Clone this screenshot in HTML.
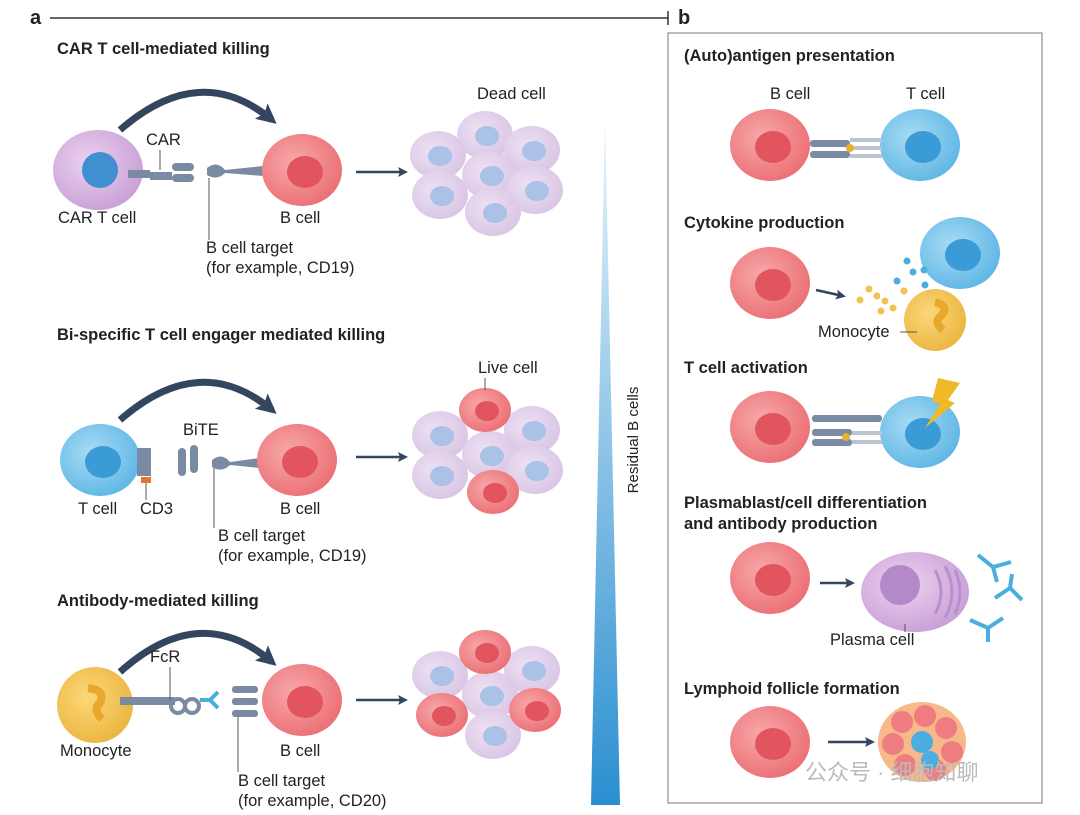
<!DOCTYPE html>
<html><head><meta charset="utf-8"><style>
html,body{margin:0;padding:0;background:#fff}
svg{display:block}
text{font-family:"Liberation Sans",Arial,sans-serif;fill:#222}
.t{font-weight:bold;font-size:16.5px}
.l{font-size:16.5px}
</style></head><body>
<svg width="1080" height="815" viewBox="0 0 1080 815">
<defs>
<radialGradient id="gR" cx="0.4" cy="0.4" r="0.7"><stop offset="0" stop-color="#f7a9aa"/><stop offset="1" stop-color="#ea6a70"/></radialGradient>
<radialGradient id="gB" cx="0.4" cy="0.4" r="0.7"><stop offset="0" stop-color="#a9dcf4"/><stop offset="1" stop-color="#58b3e4"/></radialGradient>
<radialGradient id="gP" cx="0.4" cy="0.4" r="0.7"><stop offset="0" stop-color="#ecd2ef"/><stop offset="1" stop-color="#c59bd5"/></radialGradient>
<radialGradient id="gD" cx="0.4" cy="0.4" r="0.7"><stop offset="0" stop-color="#eee0f2"/><stop offset="1" stop-color="#d6c3e4"/></radialGradient>
<radialGradient id="gY" cx="0.4" cy="0.4" r="0.7"><stop offset="0" stop-color="#fbd77a"/><stop offset="1" stop-color="#eab33a"/></radialGradient>
<linearGradient id="tri" x1="0" y1="0" x2="0" y2="1"><stop offset="0" stop-color="#e8f5fc"/><stop offset="1" stop-color="#2b8fd0"/></linearGradient>
<g id="bc"><ellipse cx="0" cy="0" rx="40" ry="36" fill="url(#gR)"/><ellipse cx="3" cy="2" rx="18" ry="16" fill="#e2555f"/></g>
<g id="tc"><ellipse cx="0" cy="0" rx="40" ry="36" fill="url(#gB)"/><ellipse cx="3" cy="2" rx="18" ry="16" fill="#3a9bd6"/></g>
<g id="dc"><ellipse cx="0" cy="0" rx="28" ry="24" fill="url(#gD)"/><ellipse cx="2" cy="1" rx="12" ry="10" fill="#a9c2e6"/></g>
<g id="lc"><ellipse cx="0" cy="0" rx="26" ry="22" fill="url(#gR)"/><ellipse cx="2" cy="1" rx="12" ry="10" fill="#e2555f"/></g>
<marker id="ah" markerUnits="userSpaceOnUse" markerWidth="10" markerHeight="10" refX="7" refY="5" orient="auto"><path d="M0,0 L10,5 L0,10 L2,5 z" fill="#34465f"/></marker>
<marker id="big" markerUnits="userSpaceOnUse" markerWidth="22" markerHeight="22" refX="14" refY="11" orient="auto"><path d="M0,1 L20,11 L0,21 L4,11 z" fill="#34465f"/></marker>
</defs>

<text x="30" y="24" style="font-weight:bold;font-size:20px">a</text>
<line x1="50" y1="18" x2="668" y2="18" stroke="#333" stroke-width="1.5"/>
<line x1="668" y1="11" x2="668" y2="25" stroke="#333" stroke-width="1.5"/>
<text x="678" y="24" style="font-weight:bold;font-size:20px">b</text>
<rect x="668" y="33" width="374" height="770" fill="none" stroke="#777" stroke-width="1"/>

<polygon points="605,118 620,805 591,805" fill="url(#tri)"/>
<text transform="translate(638,440) rotate(-90)" text-anchor="middle" class="l" style="font-size:15px">Residual B cells</text>

<!-- Row 1 -->
<text x="57" y="54" class="t">CAR T cell-mediated killing</text>
<path d="M120,130 Q200,60 272,120" fill="none" stroke="#34465f" stroke-width="7" marker-end="url(#big)"/>
<ellipse cx="98" cy="170" rx="45" ry="40" fill="url(#gP)"/><circle cx="100" cy="170" r="18" fill="#3f8fd1"/>
<rect x="128" y="170" width="22" height="8" fill="#7b8aa3"/><rect x="150" y="172" width="22" height="8" fill="#7b8aa3"/>
<rect x="172" y="163" width="22" height="8" rx="4" fill="#7b8aa3"/><rect x="172" y="174" width="22" height="8" rx="4" fill="#7b8aa3"/>
<path d="M207,168 q10,-8 18,2 l38,-4 l0,10 l-38,-3 q-8,8 -18,2" fill="#7b8aa3"/>
<use href="#bc" x="302" y="170"/>
<line x1="356" y1="172" x2="405" y2="172" stroke="#34465f" stroke-width="2.5" marker-end="url(#ah)"/>
<use href="#dc" x="485" y="135"/><use href="#dc" x="438" y="155"/><use href="#dc" x="532" y="150"/><use href="#dc" x="490" y="175"/><use href="#dc" x="440" y="195"/><use href="#dc" x="535" y="190"/><use href="#dc" x="493" y="212"/>
<text x="477" y="99" class="l">Dead cell</text>
<text x="146" y="145" class="l">CAR</text><line x1="160" y1="150" x2="160" y2="170" stroke="#555"/>
<text x="58" y="223" class="l">CAR T cell</text>
<text x="280" y="223" class="l">B cell</text>
<line x1="209" y1="178" x2="209" y2="240" stroke="#555"/>
<text x="206" y="253" class="l">B cell target</text><text x="206" y="273" class="l">(for example, CD19)</text>

<!-- Row 2 -->
<text x="57" y="340" class="t">Bi-specific T cell engager mediated killing</text>
<path d="M120,420 Q200,350 272,410" fill="none" stroke="#34465f" stroke-width="7" marker-end="url(#big)"/>
<use href="#tc" x="100" y="460"/>
<rect x="137" y="448" width="14" height="28" fill="#7b8aa3"/><rect x="141" y="477" width="10" height="6" fill="#e07a2f"/>
<rect x="178" y="448" width="8" height="28" rx="4" fill="#7b8aa3"/><rect x="190" y="445" width="8" height="28" rx="4" fill="#7b8aa3"/>
<path d="M212,460 q10,-8 18,2 l30,-4 l0,10 l-30,-3 q-8,8 -18,2" fill="#7b8aa3"/>
<use href="#bc" x="297" y="460"/>
<line x1="356" y1="457" x2="405" y2="457" stroke="#34465f" stroke-width="2.5" marker-end="url(#ah)"/>
<use href="#dc" x="440" y="435"/><use href="#dc" x="532" y="430"/><use href="#dc" x="490" y="455"/><use href="#dc" x="440" y="475"/><use href="#dc" x="535" y="470"/>
<use href="#lc" x="485" y="410"/><use href="#lc" x="493" y="492"/>
<text x="478" y="373" class="l">Live cell</text><line x1="485" y1="378" x2="485" y2="390" stroke="#555"/>
<text x="183" y="435" class="l">BiTE</text>
<text x="78" y="514" class="l">T cell</text><text x="140" y="514" class="l">CD3</text><line x1="146" y1="483" x2="146" y2="500" stroke="#555"/>
<text x="280" y="514" class="l">B cell</text>
<line x1="214" y1="468" x2="214" y2="528" stroke="#555"/>
<text x="218" y="541" class="l">B cell target</text><text x="218" y="561" class="l">(for example, CD19)</text>

<!-- Row 3 -->
<text x="57" y="606" class="t">Antibody-mediated killing</text>
<path d="M120,672 Q200,600 272,662" fill="none" stroke="#34465f" stroke-width="7" marker-end="url(#big)"/>
<circle cx="95" cy="705" r="38" fill="url(#gY)"/><path d="M88,688 q18,2 12,15 q-8,6 2,16" stroke="#e8a82e" stroke-width="8" fill="none"/>
<rect x="120" y="697" width="55" height="8" fill="#7b8aa3"/>
<circle cx="178" cy="706" r="7" fill="none" stroke="#7b8aa3" stroke-width="4"/><circle cx="192" cy="706" r="7" fill="none" stroke="#7b8aa3" stroke-width="4"/>
<path d="M200,700 l10,0 l8,-8 M210,700 l8,8" stroke="#4aafe0" stroke-width="4" fill="none"/>
<rect x="232" y="686" width="26" height="7" rx="3" fill="#7b8aa3"/><rect x="232" y="698" width="26" height="7" rx="3" fill="#7b8aa3"/><rect x="232" y="710" width="26" height="7" rx="3" fill="#7b8aa3"/>
<use href="#bc" x="302" y="700"/>
<line x1="356" y1="700" x2="405" y2="700" stroke="#34465f" stroke-width="2.5" marker-end="url(#ah)"/>
<use href="#dc" x="440" y="675"/><use href="#dc" x="532" y="670"/><use href="#dc" x="490" y="695"/><use href="#dc" x="493" y="735"/>
<use href="#lc" x="485" y="652"/><use href="#lc" x="442" y="715"/><use href="#lc" x="535" y="710"/>
<text x="150" y="662" class="l">FcR</text><line x1="170" y1="667" x2="170" y2="700" stroke="#555"/>
<text x="60" y="756" class="l">Monocyte</text>
<text x="280" y="756" class="l">B cell</text>
<line x1="238" y1="717" x2="238" y2="772" stroke="#555"/>
<text x="238" y="786" class="l">B cell target</text><text x="238" y="806" class="l">(for example, CD20)</text>

<!-- Panel b -->
<text x="684" y="61" class="t">(Auto)antigen presentation</text>
<text x="770" y="99" class="l">B cell</text><text x="906" y="99" class="l">T cell</text>
<use href="#bc" x="770" y="145"/><use href="#tc" x="920" y="145"/>
<rect x="810" y="140" width="40" height="7" rx="3" fill="#7b8aa3"/><rect x="810" y="151" width="40" height="7" rx="3" fill="#7b8aa3"/>
<path d="M850,148 l32,0 M850,140 l32,0 M850,156 l32,0" stroke="#bcc4d0" stroke-width="4"/><circle cx="850" cy="148" r="4" fill="#e8b12e"/>

<text x="684" y="228" class="t">Cytokine production</text>
<use href="#bc" x="770" y="283"/>
<use href="#tc" x="960" y="253"/>
<circle cx="935" cy="320" r="31" fill="url(#gY)"/><path d="M935,302 q15,4 6,14 q-8,6 2,14" stroke="#e8a82e" stroke-width="8" fill="none"/>
<line x1="816" y1="290" x2="843" y2="296" stroke="#34465f" stroke-width="2.5" marker-end="url(#ah)"/>
<g fill="#f2c24e"><circle cx="860" cy="300" r="3.5"/><circle cx="869" cy="289" r="3.5"/><circle cx="877" cy="296" r="3.5"/><circle cx="885" cy="301" r="3.5"/><circle cx="881" cy="311" r="3.5"/><circle cx="893" cy="308" r="3.5"/><circle cx="904" cy="291" r="3.5"/></g>
<g fill="#4aafe0"><circle cx="907" cy="261" r="3.5"/><circle cx="897" cy="281" r="3.5"/><circle cx="913" cy="272" r="3.5"/><circle cx="924" cy="270" r="3.5"/><circle cx="925" cy="285" r="3.5"/></g>
<text x="818" y="337" class="l">Monocyte</text><line x1="900" y1="332" x2="917" y2="332" stroke="#555"/>

<text x="684" y="373" class="t">T cell activation</text>
<use href="#bc" x="770" y="427"/><use href="#tc" x="920" y="432"/>
<rect x="812" y="415" width="70" height="7" rx="3" fill="#7b8aa3"/><rect x="812" y="429" width="40" height="7" rx="3" fill="#7b8aa3"/><rect x="812" y="439" width="40" height="7" rx="3" fill="#7b8aa3"/>
<path d="M852,433 l30,0 M852,442 l30,0" stroke="#bcc4d0" stroke-width="4"/><circle cx="846" cy="437" r="4" fill="#e8b12e"/>
<polygon points="938,378 960,383 948,400 955,403 925,428 940,404 932,401" fill="#f0b92a"/>

<text x="684" y="508" class="t">Plasmablast/cell differentiation</text>
<text x="684" y="529" class="t">and antibody production</text>
<use href="#bc" x="770" y="578"/>
<line x1="820" y1="583" x2="852" y2="583" stroke="#34465f" stroke-width="2.5" marker-end="url(#ah)"/>
<ellipse cx="915" cy="592" rx="54" ry="40" fill="url(#gP)"/><circle cx="900" cy="585" r="20" fill="#b489c9"/>
<path d="M935,570 q12,22 0,44 M945,566 q14,26 0,52 M955,570 q10,22 0,44" stroke="#b990cc" stroke-width="3" fill="none"/>
<text x="830" y="645" class="l">Plasma cell</text><line x1="905" y1="624" x2="905" y2="632" stroke="#555"/>
<g stroke="#4aafe0" stroke-width="4" fill="none"><path d="M978,555 l15,12 l18,-5 M993,567 l4,15"/><path d="M995,598 l15,-10 l12,12 M1010,588 l2,-14"/><path d="M970,620 l18,8 l15,-10 M988,628 l0,14"/></g>

<text x="684" y="694" class="t">Lymphoid follicle formation</text>
<use href="#bc" x="770" y="742"/>
<line x1="828" y1="742" x2="872" y2="742" stroke="#34465f" stroke-width="2.5" marker-end="url(#ah)"/>
<ellipse cx="922" cy="742" rx="44" ry="40" fill="#f7b88a"/>
<g><circle cx="902" cy="722" r="11" fill="#ef7c80"/><circle cx="925" cy="716" r="11" fill="#ef7c80"/><circle cx="946" cy="728" r="11" fill="#ef7c80"/><circle cx="952" cy="752" r="11" fill="#ef7c80"/><circle cx="935" cy="770" r="11" fill="#ef7c80"/><circle cx="905" cy="765" r="11" fill="#ef7c80"/><circle cx="893" cy="744" r="11" fill="#ef7c80"/><circle cx="922" cy="742" r="11" fill="#4aafe0"/><circle cx="930" cy="760" r="9" fill="#4aafe0"/></g>
<text x="805" y="780" style="font-size:22px;fill:#bbb;font-family:'Liberation Sans','Noto Sans CJK SC',sans-serif">公众号 · 细胞知聊</text>
</svg>
</body></html>
